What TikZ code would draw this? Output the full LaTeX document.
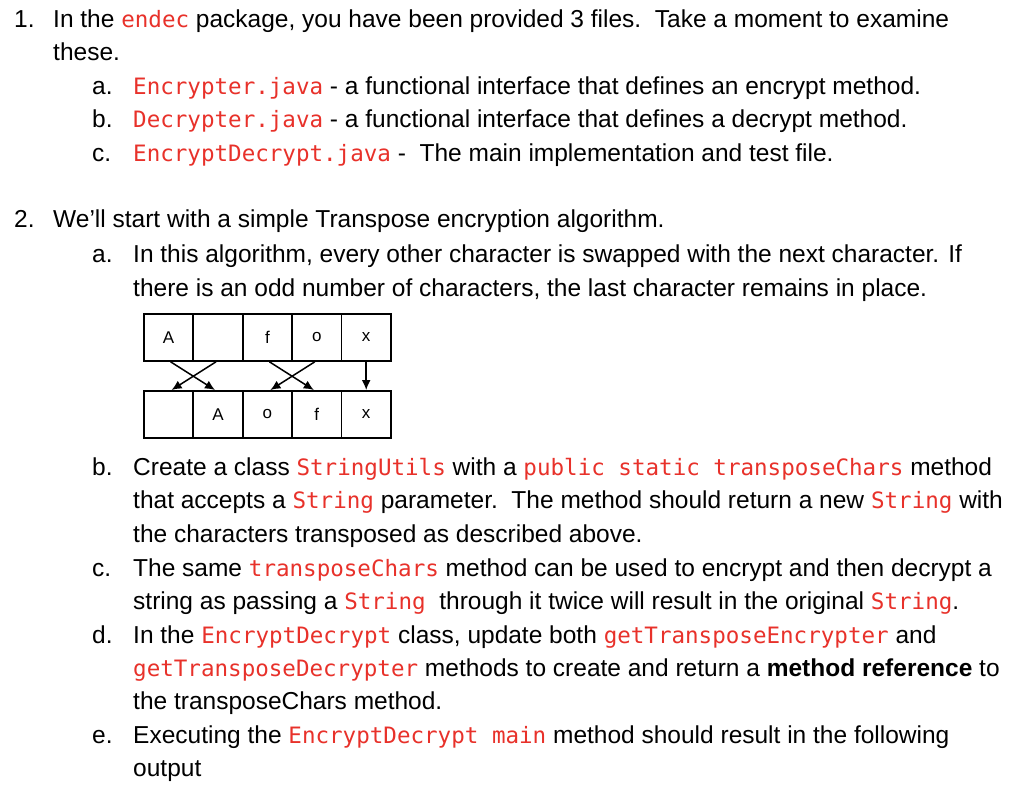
\documentclass[tikz,border=0pt]{standalone}
\usepackage{fontspec}
\setmainfont{Liberation Sans}
\newfontfamily\codefont{DejaVu Sans Mono}[Scale=0.92]
\usetikzlibrary{arrows.meta}
\definecolor{codered}{HTML}{E8312A}
\newcommand{\cd}[1]{{\codefont\color{codered}#1}}
\begin{document}
\begin{tikzpicture}[x=1pt,y=-1pt,
  txt/.style={anchor=base west,inner sep=0pt,font=\fontsize{24.5}{28}\selectfont},
  cell/.style={draw,line width=1.8pt,minimum width=49.4pt,minimum height=47pt,inner sep=0pt,anchor=north west,font=\fontsize{17}{20}\selectfont},
  arr/.style={line width=1.5pt,-{Latex[length=10pt,width=9pt]}}]
\useasboundingbox (0,0) rectangle (1024,802);
\fill[white] (0,0) rectangle (1024,802);
\node[txt] (n1) at (14,28) {1.};
\node[txt] (l1) at (53,28) {In the \cd{endec} package, you have been provided 3 files.\ \ Take a moment to examine};
\node[txt] (l2) at (53,61) {these.};
\node[txt] (a1) at (92,95) {a.};
\node[txt] (t1) at (133,95) {\cd{Encrypter.java} - a functional interface that defines an encrypt method.};
\node[txt] (b1) at (92,128) {b.};
\node[txt] (t2) at (133,128) {\cd{Decrypter.java} - a functional interface that defines a decrypt method.};
\node[txt] (c1) at (92,162) {c.};
\node[txt] (t3) at (133,162) {\cd{EncryptDecrypt.java} -\ \ The main implementation and test file.};
\node[txt] (n2) at (14,228) {2.};
\node[txt] (l3) at (53,228) {We’ll start with a simple Transpose encryption algorithm.};
\node[txt] (a2) at (92,262) {a.};
\node[txt] (t4) at (133,262) {In this algorithm, every other character is swapped with the next character. If};
\node[txt] (t5) at (133,296) {there is an odd number of characters, the last character remains in place.};
\node[txt] (b2) at (92,475) {b.};
\node[txt] (t6) at (133,475) {Create a class \cd{StringUtils} with a \cd{public static transposeChars} method};
\node[txt] (t7) at (133,508) {that accepts a \cd{String} parameter.\ \ The method should return a new \cd{String} with};
\node[txt] (t8) at (133,542) {the characters transposed as described above.};
\node[txt] (c2) at (92,576) {c.};
\node[txt] (t9) at (133,576) {The same \cd{transposeChars} method can be used to encrypt and then decrypt a};
\node[txt] (t10) at (133,609) {string as passing a \cd{String}\ \ through it twice will result in the original \cd{String}.};
\node[txt] (d2) at (92,643) {d.};
\node[txt] (t11) at (133,643) {In the \cd{EncryptDecrypt} class, update both \cd{getTransposeEncrypter} and};
\node[txt] (t12) at (133,676) {\cd{getTransposeDecrypter} methods to create and return a \textbf{method reference} to};
\node[txt] (t13) at (133,709) {the transposeChars method.};
\node[txt] (e2) at (92,743) {e.};
\node[txt] (t14) at (133,743) {Executing the \cd{EncryptDecrypt main} method should result in the following};
\node[txt] (t15) at (133,776) {output};
\foreach \i/\s in {0/A,1/{},2/f,3/o,4/x} \node[cell] (u\i) at (143+49.4*\i,313) {\s};
\foreach \i/\s in {0/{},1/A,2/o,3/f,4/x} \node[cell] (w\i) at (143+49.4*\i,390) {\s};
\draw[arr] ([xshift=2pt]u0.south) -- ([xshift=-3pt]w1.north);
\draw[arr] ([xshift=-2pt]u1.south) -- ([xshift=3pt]w0.north);
\draw[arr] ([xshift=2pt]u2.south) -- ([xshift=-3pt]w3.north);
\draw[arr] ([xshift=-2pt]u3.south) -- ([xshift=3pt]w2.north);
\draw[arr] (u4.south) -- (w4.north);
\end{tikzpicture}
\end{document}
